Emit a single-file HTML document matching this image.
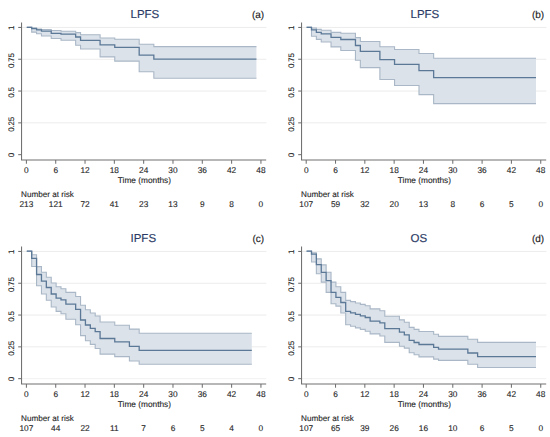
<!DOCTYPE html>
<html><head><meta charset="utf-8">
<style>
html,body{margin:0;padding:0;background:#fff;}
svg{display:block;}
text{font-family:"Liberation Sans",sans-serif;text-rendering:geometricPrecision;}
.grid{stroke:#ececec;stroke-width:1;}
.grid0{stroke:#f2f2f2;stroke-width:1;}
.ci{fill:#dce2ea;stroke:none;}
.cib{fill:none;stroke:#a9b7c6;stroke-width:1.1;}
.km{fill:none;stroke:#5b7897;stroke-width:1.3;}
.ax{fill:none;stroke:#707070;stroke-width:1.05;}
.yl{font-size:8px;letter-spacing:-0.2px;fill:#222;stroke:#222;stroke-width:0.12;text-anchor:middle;}
.xl{font-size:8.3px;fill:#262626;stroke:#262626;stroke-width:0.12;text-anchor:middle;}
.nr{font-size:8.15px;fill:#262626;stroke:#262626;stroke-width:0.12;}
.ti{font-size:11.5px;fill:#2a3a64;stroke:#2a3a64;stroke-width:0.15;}
.tag{font-size:10px;fill:#222;stroke:#222;stroke-width:0.15;text-anchor:end;}
</style></head><body>
<svg width="550" height="437" viewBox="0 0 550 437">
<rect width="550" height="437" fill="#fff"/>
<line x1="21.5" y1="27.45" x2="266.4" y2="27.45" class="grid"/>
<line x1="21.5" y1="59.25" x2="266.4" y2="59.25" class="grid"/>
<line x1="21.5" y1="91.05" x2="266.4" y2="91.05" class="grid"/>
<line x1="21.5" y1="122.85" x2="266.4" y2="122.85" class="grid"/>
<polygon points="26.80,27.40 31.69,27.40 31.69,27.90 36.57,27.90 36.57,29.10 41.46,29.10 41.46,29.50 51.23,29.50 51.23,30.50 61.00,30.50 61.00,31.20 75.66,31.20 75.66,32.60 80.55,32.60 80.55,34.80 100.09,34.80 100.09,38.00 114.75,38.00 114.75,39.30 139.18,39.30 139.18,44.20 153.84,44.20 153.84,46.60 256.44,46.60 256.44,78.20 153.84,78.20 153.84,71.80 139.18,71.80 139.18,61.10 114.75,61.10 114.75,56.90 100.09,56.90 100.09,49.00 80.55,49.00 80.55,45.20 75.66,45.20 75.66,40.20 61.00,40.20 61.00,38.50 51.23,38.50 51.23,36.00 41.46,36.00 41.46,33.70 36.57,33.70 36.57,32.10 31.69,32.10 31.69,27.40 26.80,27.40" class="ci"/>
<polyline points="26.80,27.40 31.69,27.40 31.69,27.90 36.57,27.90 36.57,29.10 41.46,29.10 41.46,29.50 51.23,29.50 51.23,30.50 61.00,30.50 61.00,31.20 75.66,31.20 75.66,32.60 80.55,32.60 80.55,34.80 100.09,34.80 100.09,38.00 114.75,38.00 114.75,39.30 139.18,39.30 139.18,44.20 153.84,44.20 153.84,46.60 256.44,46.60" class="cib"/>
<polyline points="26.80,27.40 31.69,27.40 31.69,32.10 36.57,32.10 36.57,33.70 41.46,33.70 41.46,36.00 51.23,36.00 51.23,38.50 61.00,38.50 61.00,40.20 75.66,40.20 75.66,45.20 80.55,45.20 80.55,49.00 100.09,49.00 100.09,56.90 114.75,56.90 114.75,61.10 139.18,61.10 139.18,71.80 153.84,71.80 153.84,78.20 256.44,78.20" class="cib"/>
<polyline points="26.80,27.40 31.69,27.40 31.69,28.70 36.57,28.70 36.57,29.90 41.46,29.90 41.46,31.20 51.23,31.20 51.23,33.30 61.00,33.30 61.00,34.10 75.66,34.10 75.66,37.00 80.55,37.00 80.55,40.30 100.09,40.30 100.09,44.80 114.75,44.80 114.75,47.40 139.18,47.40 139.18,55.10 153.84,55.10 153.84,59.20 256.44,59.20" class="km"/>
<path d="M21.55,22.6 V160.05 H266.2" class="ax"/>
<line x1="18.2" y1="27.45" x2="21.5" y2="27.45" class="ax"/>
<text transform="translate(13.8,27.95) rotate(-90)" class="yl">1</text>
<line x1="18.2" y1="59.25" x2="21.5" y2="59.25" class="ax"/>
<text transform="translate(13.8,60.60) rotate(-90)" class="yl">0.75</text>
<line x1="18.2" y1="91.05" x2="21.5" y2="91.05" class="ax"/>
<text transform="translate(13.8,92.50) rotate(-90)" class="yl">0.5</text>
<line x1="18.2" y1="122.85" x2="21.5" y2="122.85" class="ax"/>
<text transform="translate(13.8,124.30) rotate(-90)" class="yl">0.25</text>
<line x1="18.2" y1="154.65" x2="21.5" y2="154.65" class="ax"/>
<text transform="translate(13.8,155.15) rotate(-90)" class="yl">0</text>
<line x1="26.40" y1="160.05" x2="26.40" y2="163.7" class="ax"/>
<text x="26.40" y="172.6" class="xl">0</text>
<text x="26.40" y="206.5" class="xl">213</text>
<line x1="55.72" y1="160.05" x2="55.72" y2="163.7" class="ax"/>
<text x="55.72" y="172.6" class="xl">6</text>
<text x="55.72" y="206.5" class="xl">121</text>
<line x1="85.03" y1="160.05" x2="85.03" y2="163.7" class="ax"/>
<text x="85.03" y="172.6" class="xl">12</text>
<text x="85.03" y="206.5" class="xl">72</text>
<line x1="114.35" y1="160.05" x2="114.35" y2="163.7" class="ax"/>
<text x="114.35" y="172.6" class="xl">18</text>
<text x="114.35" y="206.5" class="xl">41</text>
<line x1="143.66" y1="160.05" x2="143.66" y2="163.7" class="ax"/>
<text x="143.66" y="172.6" class="xl">24</text>
<text x="143.66" y="206.5" class="xl">23</text>
<line x1="172.98" y1="160.05" x2="172.98" y2="163.7" class="ax"/>
<text x="172.98" y="172.6" class="xl">30</text>
<text x="172.98" y="206.5" class="xl">13</text>
<line x1="202.30" y1="160.05" x2="202.30" y2="163.7" class="ax"/>
<text x="202.30" y="172.6" class="xl">36</text>
<text x="202.30" y="206.5" class="xl">9</text>
<line x1="231.61" y1="160.05" x2="231.61" y2="163.7" class="ax"/>
<text x="231.61" y="172.6" class="xl">42</text>
<text x="231.61" y="206.5" class="xl">8</text>
<line x1="260.93" y1="160.05" x2="260.93" y2="163.7" class="ax"/>
<text x="260.93" y="172.6" class="xl">48</text>
<text x="260.93" y="206.5" class="xl">0</text>
<text x="144.4" y="183.0" class="xl">Time (months)</text>
<text x="21.1" y="197.4" class="nr">Number at risk</text>
<text x="130.5" y="18.0" class="ti">LPFS</text>
<text x="264.2" y="18.0" class="tag">(a)</text>
<line x1="301.5" y1="27.45" x2="546.4" y2="27.45" class="grid"/>
<line x1="301.5" y1="59.25" x2="546.4" y2="59.25" class="grid"/>
<line x1="301.5" y1="91.05" x2="546.4" y2="91.05" class="grid"/>
<line x1="301.5" y1="122.85" x2="546.4" y2="122.85" class="grid"/>
<polygon points="306.60,27.30 311.49,27.30 311.49,28.00 316.37,28.00 316.37,29.40 321.26,29.40 321.26,30.20 331.03,30.20 331.03,32.40 340.80,32.40 340.80,33.20 355.46,33.20 355.46,37.60 360.35,37.60 360.35,41.50 379.89,41.50 379.89,46.80 394.55,46.80 394.55,49.50 418.98,49.50 418.98,53.50 433.64,53.50 433.64,58.20 536.00,58.20 536.00,103.60 433.64,103.60 433.64,94.60 418.98,94.60 418.98,85.50 394.55,85.50 394.55,79.50 379.89,79.50 379.89,67.60 360.35,67.60 360.35,60.30 355.46,60.30 355.46,50.50 340.80,50.50 340.80,46.90 331.03,46.90 331.03,42.00 321.26,42.00 321.26,39.40 316.37,39.40 316.37,36.20 311.49,36.20 311.49,27.30 306.60,27.30" class="ci"/>
<polyline points="306.60,27.30 311.49,27.30 311.49,28.00 316.37,28.00 316.37,29.40 321.26,29.40 321.26,30.20 331.03,30.20 331.03,32.40 340.80,32.40 340.80,33.20 355.46,33.20 355.46,37.60 360.35,37.60 360.35,41.50 379.89,41.50 379.89,46.80 394.55,46.80 394.55,49.50 418.98,49.50 418.98,53.50 433.64,53.50 433.64,58.20 536.00,58.20" class="cib"/>
<polyline points="306.60,27.30 311.49,27.30 311.49,36.20 316.37,36.20 316.37,39.40 321.26,39.40 321.26,42.00 331.03,42.00 331.03,46.90 340.80,46.90 340.80,50.50 355.46,50.50 355.46,60.30 360.35,60.30 360.35,67.60 379.89,67.60 379.89,79.50 394.55,79.50 394.55,85.50 418.98,85.50 418.98,94.60 433.64,94.60 433.64,103.60 536.00,103.60" class="cib"/>
<polyline points="306.60,27.30 311.49,27.30 311.49,29.90 316.37,29.90 316.37,32.40 321.26,32.40 321.26,33.80 331.03,33.80 331.03,37.30 340.80,37.30 340.80,39.50 355.46,39.50 355.46,45.50 360.35,45.50 360.35,51.30 379.89,51.30 379.89,59.60 394.55,59.60 394.55,64.40 418.98,64.40 418.98,70.60 433.64,70.60 433.64,77.60 536.00,77.60" class="km"/>
<path d="M301.55,22.6 V160.05 H546.2" class="ax"/>
<line x1="298.2" y1="27.45" x2="301.5" y2="27.45" class="ax"/>
<text transform="translate(293.8,27.95) rotate(-90)" class="yl">1</text>
<line x1="298.2" y1="59.25" x2="301.5" y2="59.25" class="ax"/>
<text transform="translate(293.8,60.60) rotate(-90)" class="yl">0.75</text>
<line x1="298.2" y1="91.05" x2="301.5" y2="91.05" class="ax"/>
<text transform="translate(293.8,92.50) rotate(-90)" class="yl">0.5</text>
<line x1="298.2" y1="122.85" x2="301.5" y2="122.85" class="ax"/>
<text transform="translate(293.8,124.30) rotate(-90)" class="yl">0.25</text>
<line x1="298.2" y1="154.65" x2="301.5" y2="154.65" class="ax"/>
<text transform="translate(293.8,155.15) rotate(-90)" class="yl">0</text>
<line x1="306.20" y1="160.05" x2="306.20" y2="163.7" class="ax"/>
<text x="306.20" y="172.6" class="xl">0</text>
<text x="306.20" y="206.5" class="xl">107</text>
<line x1="335.52" y1="160.05" x2="335.52" y2="163.7" class="ax"/>
<text x="335.52" y="172.6" class="xl">6</text>
<text x="335.52" y="206.5" class="xl">59</text>
<line x1="364.83" y1="160.05" x2="364.83" y2="163.7" class="ax"/>
<text x="364.83" y="172.6" class="xl">12</text>
<text x="364.83" y="206.5" class="xl">32</text>
<line x1="394.15" y1="160.05" x2="394.15" y2="163.7" class="ax"/>
<text x="394.15" y="172.6" class="xl">18</text>
<text x="394.15" y="206.5" class="xl">20</text>
<line x1="423.46" y1="160.05" x2="423.46" y2="163.7" class="ax"/>
<text x="423.46" y="172.6" class="xl">24</text>
<text x="423.46" y="206.5" class="xl">13</text>
<line x1="452.78" y1="160.05" x2="452.78" y2="163.7" class="ax"/>
<text x="452.78" y="172.6" class="xl">30</text>
<text x="452.78" y="206.5" class="xl">8</text>
<line x1="482.10" y1="160.05" x2="482.10" y2="163.7" class="ax"/>
<text x="482.10" y="172.6" class="xl">36</text>
<text x="482.10" y="206.5" class="xl">6</text>
<line x1="511.41" y1="160.05" x2="511.41" y2="163.7" class="ax"/>
<text x="511.41" y="172.6" class="xl">42</text>
<text x="511.41" y="206.5" class="xl">5</text>
<line x1="540.73" y1="160.05" x2="540.73" y2="163.7" class="ax"/>
<text x="540.73" y="172.6" class="xl">48</text>
<text x="540.73" y="206.5" class="xl">0</text>
<text x="424.4" y="183.0" class="xl">Time (months)</text>
<text x="301.1" y="197.4" class="nr">Number at risk</text>
<text x="410.5" y="18.0" class="ti">LPFS</text>
<text x="544.2" y="18.0" class="tag">(b)</text>
<line x1="21.5" y1="251.45" x2="266.4" y2="251.45" class="grid"/>
<line x1="21.5" y1="283.25" x2="266.4" y2="283.25" class="grid"/>
<line x1="21.5" y1="315.05" x2="266.4" y2="315.05" class="grid"/>
<line x1="21.5" y1="346.85" x2="266.4" y2="346.85" class="grid"/>
<line x1="21.5" y1="378.65" x2="266.4" y2="378.65" class="grid0"/>
<polygon points="26.80,251.20 31.69,251.20 31.69,254.70 36.57,254.70 36.57,266.60 41.46,266.60 41.46,272.20 46.34,272.20 46.34,277.20 51.23,277.20 51.23,283.00 56.12,283.00 56.12,286.80 61.00,286.80 61.00,288.70 65.89,288.70 65.89,292.40 75.66,292.40 75.66,296.50 80.55,296.50 80.55,305.20 85.43,305.20 85.43,309.70 90.32,309.70 90.32,313.00 95.20,313.00 95.20,316.00 100.09,316.00 100.09,322.00 114.75,322.00 114.75,325.30 129.41,325.30 129.41,329.10 139.18,329.10 139.18,333.20 251.80,333.20 251.80,364.20 139.18,364.20 139.18,361.00 129.41,361.00 129.41,356.60 114.75,356.60 114.75,354.10 100.09,354.10 100.09,348.50 95.20,348.50 95.20,344.40 90.32,344.40 90.32,340.80 85.43,340.80 85.43,335.60 80.55,335.60 80.55,324.80 75.66,324.80 75.66,319.20 65.89,319.20 65.89,313.80 61.00,313.80 61.00,311.40 56.12,311.40 56.12,307.00 51.23,307.00 51.23,300.20 46.34,300.20 46.34,294.00 41.46,294.00 41.46,285.80 36.57,285.80 36.57,266.50 31.69,266.50 31.69,251.20 26.80,251.20" class="ci"/>
<polyline points="26.80,251.20 31.69,251.20 31.69,254.70 36.57,254.70 36.57,266.60 41.46,266.60 41.46,272.20 46.34,272.20 46.34,277.20 51.23,277.20 51.23,283.00 56.12,283.00 56.12,286.80 61.00,286.80 61.00,288.70 65.89,288.70 65.89,292.40 75.66,292.40 75.66,296.50 80.55,296.50 80.55,305.20 85.43,305.20 85.43,309.70 90.32,309.70 90.32,313.00 95.20,313.00 95.20,316.00 100.09,316.00 100.09,322.00 114.75,322.00 114.75,325.30 129.41,325.30 129.41,329.10 139.18,329.10 139.18,333.20 251.80,333.20" class="cib"/>
<polyline points="26.80,251.20 31.69,251.20 31.69,266.50 36.57,266.50 36.57,285.80 41.46,285.80 41.46,294.00 46.34,294.00 46.34,300.20 51.23,300.20 51.23,307.00 56.12,307.00 56.12,311.40 61.00,311.40 61.00,313.80 65.89,313.80 65.89,319.20 75.66,319.20 75.66,324.80 80.55,324.80 80.55,335.60 85.43,335.60 85.43,340.80 90.32,340.80 90.32,344.40 95.20,344.40 95.20,348.50 100.09,348.50 100.09,354.10 114.75,354.10 114.75,356.60 129.41,356.60 129.41,361.00 139.18,361.00 139.18,364.20 251.80,364.20" class="cib"/>
<polyline points="26.80,251.20 31.69,251.20 31.69,258.30 36.57,258.30 36.57,274.50 41.46,274.50 41.46,281.10 46.34,281.10 46.34,287.50 51.23,287.50 51.23,294.00 56.12,294.00 56.12,298.10 61.00,298.10 61.00,299.80 65.89,299.80 65.89,304.20 75.66,304.20 75.66,309.30 80.55,309.30 80.55,320.00 85.43,320.00 85.43,325.00 90.32,325.00 90.32,328.40 95.20,328.40 95.20,331.60 100.09,331.60 100.09,338.50 114.75,338.50 114.75,341.80 129.41,341.80 129.41,346.30 139.18,346.30 139.18,350.30 251.80,350.30" class="km"/>
<path d="M21.55,246.6 V384.05 H266.2" class="ax"/>
<line x1="18.2" y1="251.45" x2="21.5" y2="251.45" class="ax"/>
<text transform="translate(13.8,251.95) rotate(-90)" class="yl">1</text>
<line x1="18.2" y1="283.25" x2="21.5" y2="283.25" class="ax"/>
<text transform="translate(13.8,284.60) rotate(-90)" class="yl">0.75</text>
<line x1="18.2" y1="315.05" x2="21.5" y2="315.05" class="ax"/>
<text transform="translate(13.8,316.50) rotate(-90)" class="yl">0.5</text>
<line x1="18.2" y1="346.85" x2="21.5" y2="346.85" class="ax"/>
<text transform="translate(13.8,348.30) rotate(-90)" class="yl">0.25</text>
<line x1="18.2" y1="378.65" x2="21.5" y2="378.65" class="ax"/>
<text transform="translate(13.8,379.15) rotate(-90)" class="yl">0</text>
<line x1="26.40" y1="384.05" x2="26.40" y2="387.7" class="ax"/>
<text x="26.40" y="396.6" class="xl">0</text>
<text x="26.40" y="430.5" class="xl">107</text>
<line x1="55.72" y1="384.05" x2="55.72" y2="387.7" class="ax"/>
<text x="55.72" y="396.6" class="xl">6</text>
<text x="55.72" y="430.5" class="xl">44</text>
<line x1="85.03" y1="384.05" x2="85.03" y2="387.7" class="ax"/>
<text x="85.03" y="396.6" class="xl">12</text>
<text x="85.03" y="430.5" class="xl">22</text>
<line x1="114.35" y1="384.05" x2="114.35" y2="387.7" class="ax"/>
<text x="114.35" y="396.6" class="xl">18</text>
<text x="114.35" y="430.5" class="xl">11</text>
<line x1="143.66" y1="384.05" x2="143.66" y2="387.7" class="ax"/>
<text x="143.66" y="396.6" class="xl">24</text>
<text x="143.66" y="430.5" class="xl">7</text>
<line x1="172.98" y1="384.05" x2="172.98" y2="387.7" class="ax"/>
<text x="172.98" y="396.6" class="xl">30</text>
<text x="172.98" y="430.5" class="xl">6</text>
<line x1="202.30" y1="384.05" x2="202.30" y2="387.7" class="ax"/>
<text x="202.30" y="396.6" class="xl">36</text>
<text x="202.30" y="430.5" class="xl">5</text>
<line x1="231.61" y1="384.05" x2="231.61" y2="387.7" class="ax"/>
<text x="231.61" y="396.6" class="xl">42</text>
<text x="231.61" y="430.5" class="xl">4</text>
<line x1="260.93" y1="384.05" x2="260.93" y2="387.7" class="ax"/>
<text x="260.93" y="396.6" class="xl">48</text>
<text x="260.93" y="430.5" class="xl">0</text>
<text x="144.4" y="407.0" class="xl">Time (months)</text>
<text x="21.1" y="421.4" class="nr">Number at risk</text>
<text x="130.5" y="242.0" class="ti">IPFS</text>
<text x="264.2" y="242.0" class="tag">(c)</text>
<line x1="301.5" y1="251.45" x2="546.4" y2="251.45" class="grid"/>
<line x1="301.5" y1="283.25" x2="546.4" y2="283.25" class="grid"/>
<line x1="301.5" y1="315.05" x2="546.4" y2="315.05" class="grid"/>
<line x1="301.5" y1="346.85" x2="546.4" y2="346.85" class="grid"/>
<line x1="301.5" y1="378.65" x2="546.4" y2="378.65" class="grid0"/>
<polygon points="306.60,251.20 311.49,251.20 311.49,252.70 316.37,252.70 316.37,258.90 321.26,258.90 321.26,264.90 326.14,264.90 326.14,272.30 331.03,272.30 331.03,282.10 335.92,282.10 335.92,286.80 340.80,286.80 340.80,292.40 345.69,292.40 345.69,300.40 350.57,300.40 350.57,301.60 355.46,301.60 355.46,303.00 360.35,303.00 360.35,304.40 365.23,304.40 365.23,305.70 370.12,305.70 370.12,308.90 379.89,308.90 379.89,310.70 384.78,310.70 384.78,316.30 399.43,316.30 399.43,319.90 404.32,319.90 404.32,322.20 409.21,322.20 409.21,327.40 414.09,327.40 414.09,329.40 418.98,329.40 418.98,331.50 433.64,331.50 433.64,334.20 438.52,334.20 438.52,336.40 467.84,336.40 467.84,339.20 477.61,339.20 477.61,342.40 536.00,342.40 536.00,367.50 477.61,367.50 477.61,364.20 467.84,364.20 467.84,360.40 438.52,360.40 438.52,359.10 433.64,359.10 433.64,356.90 418.98,356.90 418.98,354.80 414.09,354.80 414.09,352.80 409.21,352.80 409.21,348.10 404.32,348.10 404.32,346.20 399.43,346.20 399.43,342.40 384.78,342.40 384.78,336.00 379.89,336.00 379.89,333.90 370.12,333.90 370.12,331.30 365.23,331.30 365.23,329.40 360.35,329.40 360.35,327.90 355.46,327.90 355.46,326.20 350.57,326.20 350.57,324.80 345.69,324.80 345.69,313.00 340.80,313.00 340.80,306.10 335.92,306.10 335.92,303.80 331.03,303.80 331.03,292.40 326.14,292.40 326.14,282.10 321.26,282.10 321.26,273.80 316.37,273.80 316.37,262.00 311.49,262.00 311.49,251.20 306.60,251.20" class="ci"/>
<polyline points="306.60,251.20 311.49,251.20 311.49,252.70 316.37,252.70 316.37,258.90 321.26,258.90 321.26,264.90 326.14,264.90 326.14,272.30 331.03,272.30 331.03,282.10 335.92,282.10 335.92,286.80 340.80,286.80 340.80,292.40 345.69,292.40 345.69,300.40 350.57,300.40 350.57,301.60 355.46,301.60 355.46,303.00 360.35,303.00 360.35,304.40 365.23,304.40 365.23,305.70 370.12,305.70 370.12,308.90 379.89,308.90 379.89,310.70 384.78,310.70 384.78,316.30 399.43,316.30 399.43,319.90 404.32,319.90 404.32,322.20 409.21,322.20 409.21,327.40 414.09,327.40 414.09,329.40 418.98,329.40 418.98,331.50 433.64,331.50 433.64,334.20 438.52,334.20 438.52,336.40 467.84,336.40 467.84,339.20 477.61,339.20 477.61,342.40 536.00,342.40" class="cib"/>
<polyline points="306.60,251.20 311.49,251.20 311.49,262.00 316.37,262.00 316.37,273.80 321.26,273.80 321.26,282.10 326.14,282.10 326.14,292.40 331.03,292.40 331.03,303.80 335.92,303.80 335.92,306.10 340.80,306.10 340.80,313.00 345.69,313.00 345.69,324.80 350.57,324.80 350.57,326.20 355.46,326.20 355.46,327.90 360.35,327.90 360.35,329.40 365.23,329.40 365.23,331.30 370.12,331.30 370.12,333.90 379.89,333.90 379.89,336.00 384.78,336.00 384.78,342.40 399.43,342.40 399.43,346.20 404.32,346.20 404.32,348.10 409.21,348.10 409.21,352.80 414.09,352.80 414.09,354.80 418.98,354.80 418.98,356.90 433.64,356.90 433.64,359.10 438.52,359.10 438.52,360.40 467.84,360.40 467.84,364.20 477.61,364.20 477.61,367.50 536.00,367.50" class="cib"/>
<polyline points="306.60,251.20 311.49,251.20 311.49,254.20 316.37,254.20 316.37,264.60 321.26,264.60 321.26,272.30 326.14,272.30 326.14,280.60 331.03,280.60 331.03,292.40 335.92,292.40 335.92,297.40 340.80,297.40 340.80,302.50 345.69,302.50 345.69,311.30 350.57,311.30 350.57,312.80 355.46,312.80 355.46,314.40 360.35,314.40 360.35,315.90 365.23,315.90 365.23,317.50 370.12,317.50 370.12,321.20 379.89,321.20 379.89,322.90 384.78,322.90 384.78,328.70 399.43,328.70 399.43,332.20 404.32,332.20 404.32,334.90 409.21,334.90 409.21,340.40 414.09,340.40 414.09,342.50 418.98,342.50 418.98,344.50 433.64,344.50 433.64,347.30 438.52,347.30 438.52,349.10 467.84,349.10 467.84,353.00 477.61,353.00 477.61,356.70 536.00,356.70" class="km"/>
<path d="M301.55,246.6 V384.05 H546.2" class="ax"/>
<line x1="298.2" y1="251.45" x2="301.5" y2="251.45" class="ax"/>
<text transform="translate(293.8,251.95) rotate(-90)" class="yl">1</text>
<line x1="298.2" y1="283.25" x2="301.5" y2="283.25" class="ax"/>
<text transform="translate(293.8,284.60) rotate(-90)" class="yl">0.75</text>
<line x1="298.2" y1="315.05" x2="301.5" y2="315.05" class="ax"/>
<text transform="translate(293.8,316.50) rotate(-90)" class="yl">0.5</text>
<line x1="298.2" y1="346.85" x2="301.5" y2="346.85" class="ax"/>
<text transform="translate(293.8,348.30) rotate(-90)" class="yl">0.25</text>
<line x1="298.2" y1="378.65" x2="301.5" y2="378.65" class="ax"/>
<text transform="translate(293.8,379.15) rotate(-90)" class="yl">0</text>
<line x1="306.20" y1="384.05" x2="306.20" y2="387.7" class="ax"/>
<text x="306.20" y="396.6" class="xl">0</text>
<text x="306.20" y="430.5" class="xl">107</text>
<line x1="335.52" y1="384.05" x2="335.52" y2="387.7" class="ax"/>
<text x="335.52" y="396.6" class="xl">6</text>
<text x="335.52" y="430.5" class="xl">65</text>
<line x1="364.83" y1="384.05" x2="364.83" y2="387.7" class="ax"/>
<text x="364.83" y="396.6" class="xl">12</text>
<text x="364.83" y="430.5" class="xl">39</text>
<line x1="394.15" y1="384.05" x2="394.15" y2="387.7" class="ax"/>
<text x="394.15" y="396.6" class="xl">18</text>
<text x="394.15" y="430.5" class="xl">26</text>
<line x1="423.46" y1="384.05" x2="423.46" y2="387.7" class="ax"/>
<text x="423.46" y="396.6" class="xl">24</text>
<text x="423.46" y="430.5" class="xl">16</text>
<line x1="452.78" y1="384.05" x2="452.78" y2="387.7" class="ax"/>
<text x="452.78" y="396.6" class="xl">30</text>
<text x="452.78" y="430.5" class="xl">10</text>
<line x1="482.10" y1="384.05" x2="482.10" y2="387.7" class="ax"/>
<text x="482.10" y="396.6" class="xl">36</text>
<text x="482.10" y="430.5" class="xl">6</text>
<line x1="511.41" y1="384.05" x2="511.41" y2="387.7" class="ax"/>
<text x="511.41" y="396.6" class="xl">42</text>
<text x="511.41" y="430.5" class="xl">5</text>
<line x1="540.73" y1="384.05" x2="540.73" y2="387.7" class="ax"/>
<text x="540.73" y="396.6" class="xl">48</text>
<text x="540.73" y="430.5" class="xl">0</text>
<text x="424.4" y="407.0" class="xl">Time (months)</text>
<text x="301.1" y="421.4" class="nr">Number at risk</text>
<text x="410.5" y="242.0" class="ti">OS</text>
<text x="544.2" y="242.0" class="tag">(d)</text>
</svg>
</body></html>
